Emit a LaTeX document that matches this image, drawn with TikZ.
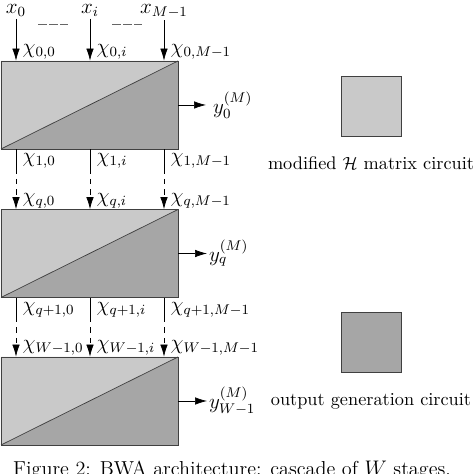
\documentclass[tikz,border=0pt]{standalone}
\usepackage{amsmath}
\usepackage{amssymb}
\usepackage{xcolor}
\usepackage{tikz}
\usetikzlibrary{positioning,arrows.meta}

\definecolor{lightgate}{gray}{0.79}
\definecolor{darkgate}{gray}{0.65}

\tikzset{
    stage/.style={draw=black!75,minimum width=3.54cm,minimum height=1.76cm,inner sep=0pt,
        path picture={
            \fill[lightgate] (path picture bounding box.south west) |- (path picture bounding box.north east) -- cycle;
            \fill[darkgate] (path picture bounding box.south west) -| (path picture bounding box.north east) -- cycle;
            \draw (path picture bounding box.south west) -- (path picture bounding box.north east);}},
    sig/.style={inner sep=1pt,font=\large},
    chiup/.style={anchor=south west,inner sep=0.5pt,xshift=0.11cm,font=\large},
    chidown/.style={anchor=north west,inner sep=0.5pt,xshift=0.11cm,yshift=-0.06cm,font=\large},
    legend/.style={draw=black!75,minimum size=1.2cm}
}

\begin{document}
\begin{tikzpicture}[>={Latex[length=0.24cm,width=0.15cm]}]
    \clip (0,0) rectangle (9.48,9.48);
    % stages
    \node[stage] (S0) at (1.79,7.38) {};
    \node[stage] (Sq) at (1.79,4.41) {};
    \node[stage] (SW) at (1.79,1.46) {};
    % inputs
    \node[sig,anchor=base] (x0) at (0.32,9.21) {$x_0$};
    \node[sig,anchor=base] (xi) at (1.80,9.21) {$x_i$};
    \node[sig,anchor=base] (xM) at (3.28,9.21) {$x_{M-1}$};
    \draw[->] (x0) -- (x0 |- S0.north) node[chiup] {$\chi_{0,0}$};
    \draw[->] (xi) -- (xi |- S0.north) node[chiup] {$\chi_{0,i}$};
    \draw[->] (xM) -- (xM |- S0.north) node[chiup] {$\chi_{0,M-1}$};
    \draw[black!60,dash pattern=on 0.17cm off 0.05cm] (0.76,8.99) -- (1.36,8.99);
    \draw[black!60,dash pattern=on 0.17cm off 0.05cm] (2.24,8.99) -- (2.84,8.99);
    % stage 0 to stage q
    \draw (S0.south -| x0) node[chidown] {$\chi_{1,0}$} -- ++(0,-0.38) coordinate (a0);
    \draw (S0.south -| xi) node[chidown] {$\chi_{1,i}$} -- ++(0,-0.38) coordinate (ai);
    \draw (S0.south -| xM) node[chidown] {$\chi_{1,M-1}$} -- ++(0,-0.38) coordinate (aM);
    \draw[->,dashed] (a0) -- (a0 |- Sq.north) node[chiup] {$\chi_{q,0}$};
    \draw[->,dashed] (ai) -- (ai |- Sq.north) node[chiup] {$\chi_{q,i}$};
    \draw[->,dashed] (aM) -- (aM |- Sq.north) node[chiup] {$\chi_{q,M-1}$};
    % stage q to stage W-1
    \draw (Sq.south -| x0) node[chidown] {$\chi_{q+1,0}$} -- ++(0,-0.38) coordinate (b0);
    \draw (Sq.south -| xi) node[chidown] {$\chi_{q+1,i}$} -- ++(0,-0.38) coordinate (bi);
    \draw (Sq.south -| xM) node[chidown] {$\chi_{q+1,M-1}$} -- ++(0,-0.38) coordinate (bM);
    \draw[->,dashed] (b0) -- (b0 |- SW.north) node[chiup] {$\chi_{W-1,0}$};
    \draw[->,dashed] (bi) -- (bi |- SW.north) node[chiup] {$\chi_{W-1,i}$};
    \draw[->,dashed] (bM) -- (bM |- SW.north) node[chiup] {$\chi_{W-1,M-1}$};
    % outputs
    \node[sig,anchor=west] (y0) at (4.22,7.38) {$y_0^{(M)}$};
    \node[sig,anchor=west] (yq) at (4.14,4.41) {$y_q^{(M)}$};
    \node[sig,anchor=west] (yW) at (4.14,1.46) {$y_{W-1}^{(M)}$};
    \draw[->] (S0.east) -- ([xshift=-0.1cm]S0.east -| y0.west);
    \draw[->] (Sq.east) -- (Sq.east -| yq.west);
    \draw[->] (SW.east) -- (SW.east -| yW.west);
    % legend
    \node[legend,fill=lightgate] (Hbox) at (7.42,7.36) {};
    \node[below=0.28cm of Hbox,font=\fontsize{10.4}{12}\selectfont] (Hlab) {modified $\mathcal{H}$ matrix circuit};
    \node[legend,fill=darkgate] (Obox) at (7.42,2.63) {};
    \node[below=0.28cm of Obox,font=\fontsize{10.4}{12}\selectfont] (Olab) {output generation circuit};
    % caption
    \node[anchor=base west,font=\fontsize{11.5}{14}\selectfont] (cap) at (0.14,-0.02) {Figure 2: BWA architecture: cascade of $W$ stages.};
\end{tikzpicture}
\end{document}
